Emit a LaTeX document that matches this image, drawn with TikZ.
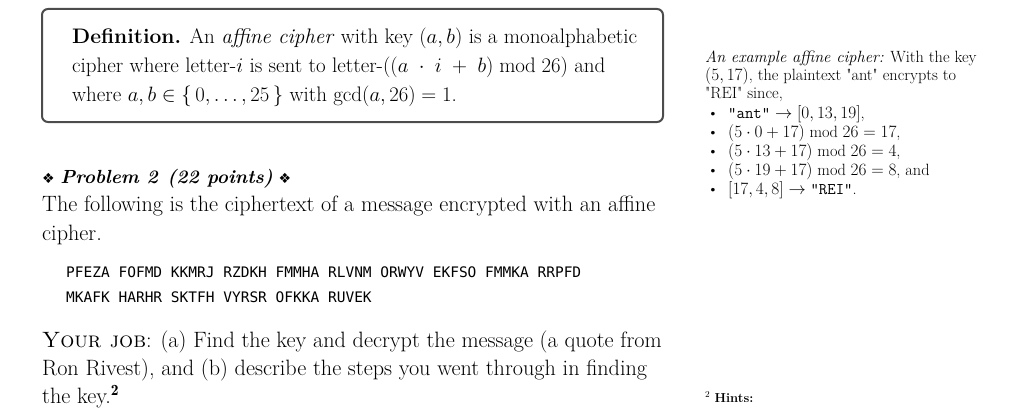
\documentclass[tikz,border=0pt]{standalone}
\usepackage{fontspec}
\newfontfamily\djv{DejaVu Sans}
\newfontfamily\dmono{DejaVu Sans Mono}
\newcommand\sq{\textquotedbl}
\begin{document}
\begin{tikzpicture}[x=1pt,y=-1pt,
  main/.style={anchor=base west,inner sep=0pt,font=\fontsize{22.2}{26}\selectfont},
  side/.style={anchor=base west,inner sep=0pt,font=\fontsize{16.3}{19}\selectfont},
  code/.style={anchor=base west,inner sep=0pt,font=\fontsize{14.5}{17}\dmono}]
\useasboundingbox (0,0) rectangle (1024,409);
\draw[line width=2pt,draw=black!70,rounded corners=6pt] (42,9) rectangle (663,122);
\node[main,font=\fontsize{21}{25}\selectfont] (d1) at (72,44) {\textbf{Definition.} An \emph{affine cipher} with key $(a,b)$ is a monoalphabetic};
\node[main,font=\fontsize{21}{25}\selectfont] (d2) at (72,73) {cipher where letter-$i$ is sent to letter-$((a\;\cdot\;i\;+\;b)\bmod 26)$ and};
\node[main,font=\fontsize{21}{25}\selectfont] (d3) at (72,102) {where $a,b\in\{\,0,\ldots,25\,\}$ with $\gcd(a,26)=1$.};
\node[side] (s1) at (705,63) {\emph{An example affine cipher:} With the key};
\node[side] (s2) at (705,81) {$(5,17)$, the plaintext \sq ant\sq{} encrypts to};
\node[side] (s3) at (705,99) {\sq REI\sq{} since,};
\foreach \y/\t [count=\i] in {118/{\texttt{"ant"} $\rightarrow[0,13,19]$,},137/{$(5\cdot0+17)\bmod 26=17$,},156/{$(5\cdot13+17)\bmod 26=4$,},175/{$(5\cdot19+17)\bmod 26=8$, and},194/{$[17,4,8]\rightarrow\texttt{"REI"}$.}}{
  \node[side] (b\i) at (707,\y) {\textbullet};
  \node[side] (t\i) at (728,\y) {\t};
}
\node[main,font=\fontsize{19}{22}\selectfont] (p0) at (42,183) {{\djv\fontsize{14}{16}\selectfont ❖} \textit{\textbf{Problem 2\enspace(22 points)}} {\djv\fontsize{14}{16}\selectfont ❖}};
\node[main] (p1) at (42,211) {The following is the ciphertext of a message encrypted with an affine};
\node[main] (p2) at (42,240) {cipher.};
\node[code] (c1) at (66,277) {PFEZA FOFMD KKMRJ RZDKH FMMHA RLVNM ORWYV EKFSO FMMKA RRPFD};
\node[code] (c2) at (66,302) {MKAFK HARHR SKTFH VYRSR OFKKA RUVEK};
\node[main] (j1) at (42,347) {\textsc{Your job}: (a) Find the key and decrypt the message (a quote from};
\node[main] (j2) at (42,375) {Ron Rivest), and (b) describe the steps you went through in finding};
\node[main] (j3) at (42,403) {the key.$^{\mathbf 2}$};
\node[side,font=\fontsize{13}{15}\selectfont] (h) at (705,402) {$^{2}$ \textbf{Hints:}};
\end{tikzpicture}
\end{document}
